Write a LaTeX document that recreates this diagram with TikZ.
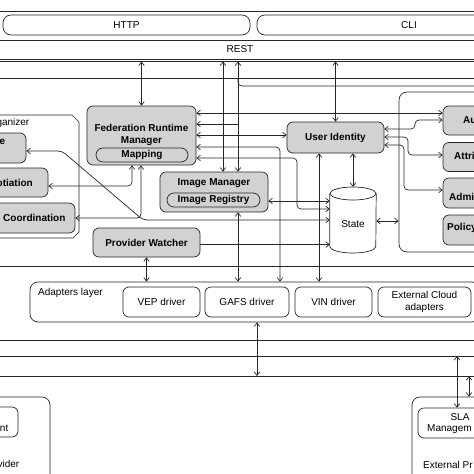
\documentclass[tikz,border=0pt]{standalone}
\usepackage{fontspec}
\setmainfont{Liberation Sans}
\usetikzlibrary{arrows.meta}

\tikzset{
  frame/.style={draw=black!85, line width=0.7pt},
  box/.style={draw=black!85, line width=0.7pt, rounded corners=6pt, inner sep=0pt,
    font=\fontsize{10}{12}\selectfont, align=center},
  grey/.style={box, fill=gray!35, font=\fontsize{10}{12}\selectfont\bfseries},
  pill/.style={grey, rounded corners=7pt},
  lbl/.style={inner sep=0pt, font=\fontsize{10}{12}\selectfont, align=center},
  blbl/.style={lbl, font=\fontsize{10}{12}\selectfont\bfseries},
  link/.style={draw=black!85, line width=0.7pt, rounded corners=4pt},
}

\begin{document}
\begin{tikzpicture}[x=1pt,y=-1pt,>={Straight Barb[length=3.5pt,width=5.5pt]}]
\useasboundingbox (0,0) rectangle (474,474);
\clip (0,0) rectangle (474,474);

\coordinate (apiT) at (0,11);
\coordinate (apiB) at (0,40);
\coordinate (restB) at (0,59.5);
\coordinate (coreT) at (0,61.5);
\coordinate (coreI) at (0,78);
\coordinate (coreB) at (0,266);
\coordinate (busA) at (0,340);
\coordinate (busB) at (0,356);
\coordinate (busC) at (0,376);

\foreach \c in {apiT,apiB,restB,coreT,coreI,coreB,busA,busB,busC}
  \draw[frame] ([xshift=-5pt]\c) -- ([xshift=480pt]\c);

\node[box, rounded corners=8pt, minimum width=247pt, minimum height=20pt] (http) at (126.5,25) {HTTP};
\node[box, rounded corners=8pt, minimum width=304pt, minimum height=20pt] (cli) at (409,25) {CLI};
\node[lbl] (rest) at (240,49) {REST};

\draw[frame] (-5,115) -- (72,115) -- (79,122) -- (79,232) -- (73,238) -- (-5,238);
\node[lbl, anchor=east] (slaorg) at (29.5,123) {ganizer};
\node[grey, minimum width=86pt, minimum height=30pt] (tmpl) at (-17,148) {};
\node[blbl, anchor=east] (tmpltxt) at (5.5,142) {e};
\node[grey, minimum width=116pt, minimum height=29pt] (neg) at (-10,182.5) {};
\node[blbl, anchor=east] (negtxt) at (33,183) {otiation};
\node[grey, minimum width=105pt, minimum height=30pt] (coord) at (22.5,218) {};
\node[blbl, anchor=west] (coordtxt) at (3,218) {Coordination};

\node[grey, minimum width=109pt, minimum height=59pt] (frm) at (141.5,135.5) {};
\node[blbl] (frmtxt) at (141.5,135) {Federation Runtime\\Manager};
\node[pill, minimum width=92pt, minimum height=14pt] (map) at (142,155) {Mapping};

\node[grey, minimum width=108pt, minimum height=40pt] (im) at (214,192) {};
\node[blbl] (imtxt) at (214,183) {Image Manager};
\node[pill, minimum width=93pt, minimum height=14pt] (reg) at (213.5,200) {Image Registry};
\coordinate (imR) at ([xshift=24pt]im.north);

\node[grey, minimum width=97pt, minimum height=31pt] (ui) at (335.5,137.5) {User Identity};
\node[grey, minimum width=107pt, minimum height=29pt] (pw) at (146.5,242.5) {Provider Watcher};

\node[minimum width=46pt, minimum height=66pt, inner sep=0pt] (state) at (353,220) {};
\draw[frame] (state.west |- 0,193.5) -- (state.west |- 0,246.5)
  arc[start angle=180, end angle=360, x radius=23pt, y radius=6.5pt] -- (state.east |- 0,193.5);
\draw[frame] (353,193.5) ellipse [x radius=23pt, y radius=6.5pt];
\node[lbl] (statetxt) at (353,224) {State};

\node[box, rounded corners=8pt, minimum width=121pt, minimum height=160pt] (sec) at (459.5,172) {};
\node[grey, minimum width=97pt, minimum height=29pt] (au) at (491.5,120.5) {};
\node[blbl, anchor=west] (autxt) at (463,120) {Au};
\node[grey, minimum width=97pt, minimum height=29pt] (attr) at (491.5,157) {};
\node[blbl, anchor=west] (attrtxt) at (454,156) {Attri};
\node[grey, minimum width=97pt, minimum height=30pt] (adm) at (491.5,193) {};
\node[blbl, anchor=west] (admtxt) at (449,197) {Admi};
\node[grey, minimum width=97pt, minimum height=30pt] (pol) at (491.5,230) {};
\node[blbl, anchor=west] (poltxt) at (447,228) {Policy};

\node[box, rounded corners=8pt, minimum width=450pt, minimum height=40pt] (adp) at (255,302) {};
\node[lbl, anchor=west] (adptxt) at (38,293) {Adapters layer};
\node[box, minimum width=77pt, minimum height=30pt] (vep) at (161.5,302) {VEP driver};
\node[box, minimum width=84pt, minimum height=30pt] (gafs) at (247,302) {GAFS driver};
\node[box, minimum width=77pt, minimum height=30pt] (vin) at (333.5,302) {VIN driver};
\node[box, minimum width=93pt, minimum height=30pt] (ext) at (424.5,302) {External Cloud\\adapters};

\node[box, rounded corners=8pt, minimum width=110pt, minimum height=123pt] (cprov) at (-5,458.5) {};
\node[box, minimum width=78pt, minimum height=30pt] (cpin) at (-21,422) {};
\node[lbl, anchor=east] (cpintxt) at (8.5,428) {nt};
\node[lbl, anchor=east] (cprovtxt) at (19.5,464) {vider};
\node[box, rounded corners=8pt, minimum width=128pt, minimum height=123pt] (extp) at (476,458.5) {};
\node[box, minimum width=84pt, minimum height=30pt] (slam) at (460,423) {};
\node[lbl] (slatxt) at (460,417) {SLA};
\node[lbl, anchor=west] (mgmtxt) at (427,429) {Managem};
\node[lbl, anchor=west] (extptxt) at (423,465) {External Pr};

\draw[link, <->] (frm.north) -- (frm.north |- coreT);
\draw[link, <->] ([xshift=9pt]im.north) -- ([xshift=9pt]im.north |- coreT);
\draw[link, <->] (imR) -- (imR |- coreT);
\draw[link] (imR |- coreI) |- (480,86);
\draw[link, <->] (ui.north) -- (ui.north |- coreT);
\draw[link, <->] (frm.east |- 0,113) -- (au.west |- 0,113);
\draw[link, <-] (frm.east |- 0,124) -- (imR |- 0,124);
\draw[link, <->] (frm.east |- 0,135) -- (ui.west |- 0,135);
\draw[link, <->] (frm.east |- 0,147) -| (adp.north -| 280,0);
\draw[link, <->] (frm.east |- 0,158) -| (297,209) -- (state.west |- 0,209);
\draw[link, <->] (frm.south -| 132,0) |- (neg.east |- 0,186);
\draw[link, <->] (frm.south -| 141,0) |- (coord.east);
\draw[link, <->] (tmpl.east |- 0,151) -- (62,151) -- (143,220) -- (state.west |- 0,220);
\draw[link, <->] (im.east |- 0,201) -- (state.west |- 0,201);
\draw[link, ->] (pw.east |- 0,244.5) -- (state.west |- 0,244.5);
\draw[link, <->] (im.south -| imR) -- (adp.north -| imR);
\draw[link, <->] (ui.south -| 319,0) -- (adp.north -| 319,0);
\draw[link, <->] (ui.south -| state.north) -- (state.north);
\draw[link, <->] (state.east |- 0,221) -- (sec.west |- 0,221);
\draw[link, <->] (ui.east |- 0,129) -- (415,129) -- (415,120) -- (au.west |- 0,120);
\draw[link, <->] (ui.east |- 0,137) -- (408,137) -- (408,155) -- (attr.west |- 0,155);
\draw[link, <->] (ui.east |- 0,145) -- (404,145) -- (404,190) -- (adm.west |- 0,190);
\draw[link, <->] (pw.south) -- (adp.north -| pw.south);
\draw[link, <->] (adp.south -| 257,0) -- (busC -| 257,0);
\draw[link, <->] (busB -| 457,0) -- (slam.north -| 457,0);
\draw[link, <->] (busC -| 469,0) -- (extp.north -| 469,0);
\end{tikzpicture}
\end{document}
